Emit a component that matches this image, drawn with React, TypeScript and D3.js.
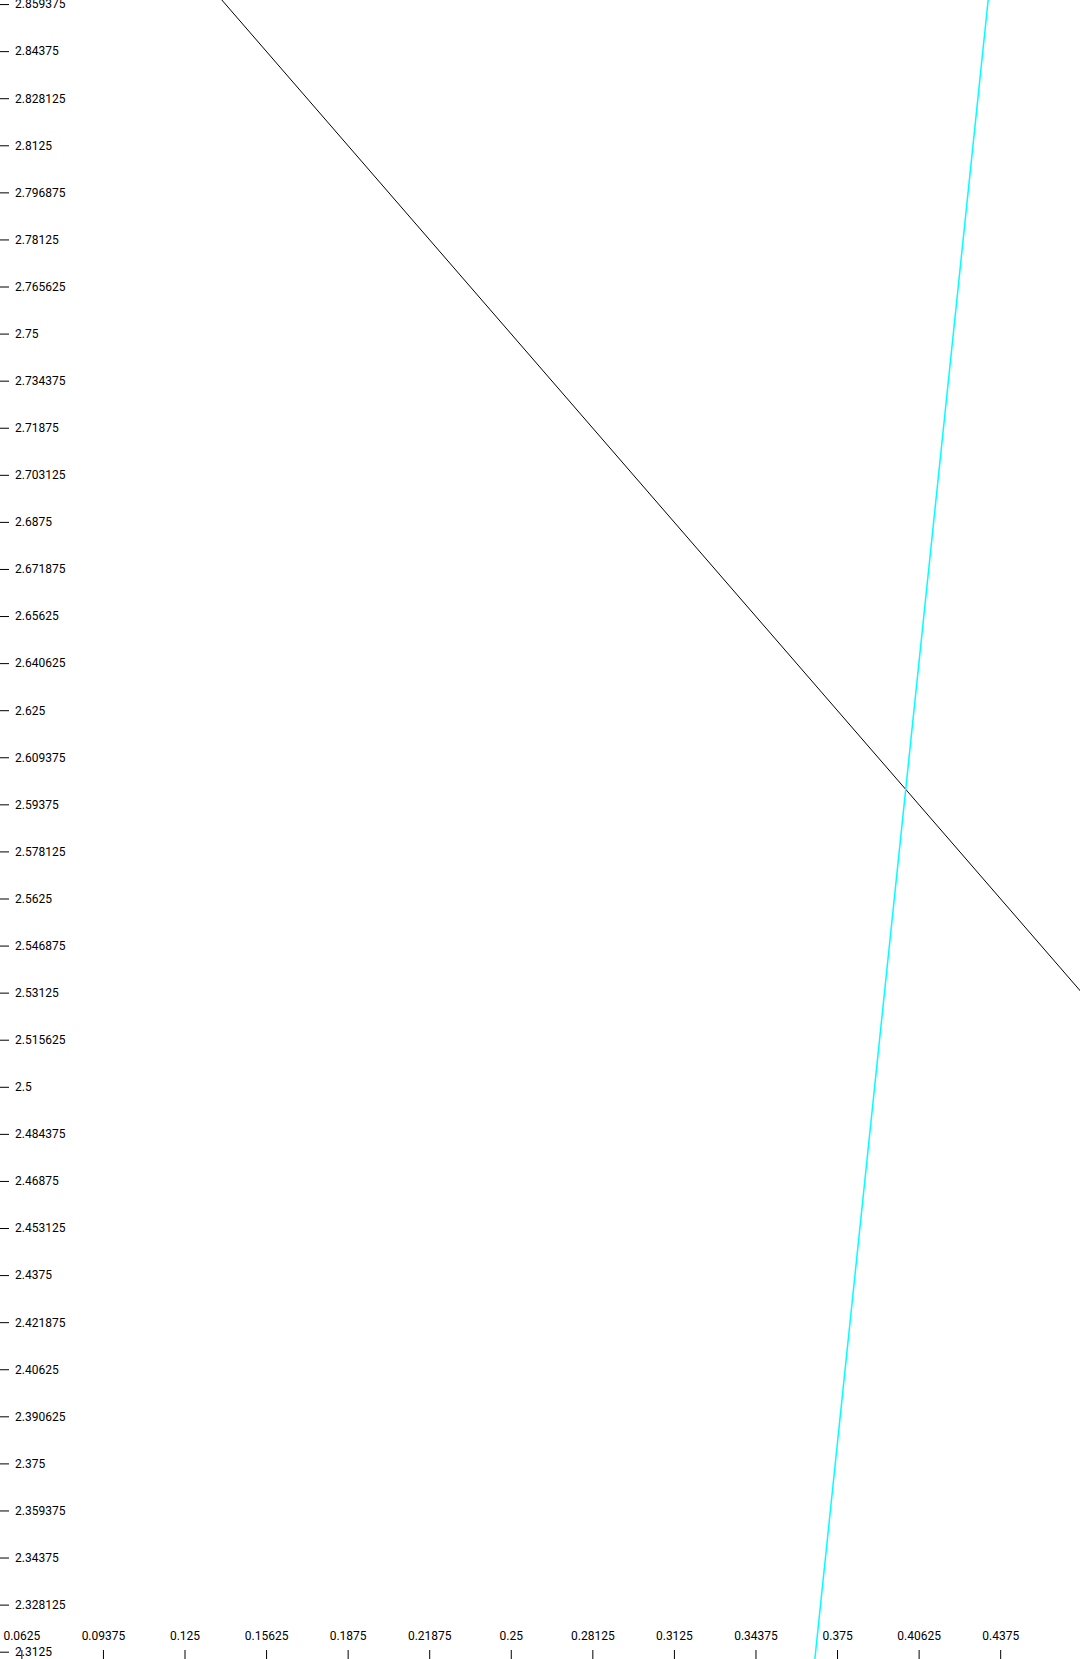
import React from "react";
import * as d3 from "d3";

const W = 1080;
const H = 1659;

// tick values (binary fractions)
const xTicks = [0.0625, 0.09375, 0.125, 0.15625, 0.1875, 0.21875, 0.25, 0.28125, 0.3125, 0.34375, 0.375, 0.40625, 0.4375];
const yTicks = [
  2.859375, 2.84375, 2.828125, 2.8125, 2.796875, 2.78125, 2.765625, 2.75,
  2.734375, 2.71875, 2.703125, 2.6875, 2.671875, 2.65625, 2.640625, 2.625,
  2.609375, 2.59375, 2.578125, 2.5625, 2.546875, 2.53125, 2.515625, 2.5,
  2.484375, 2.46875, 2.453125, 2.4375, 2.421875, 2.40625, 2.390625, 2.375,
  2.359375, 2.34375, 2.328125, 2.3125,
];

// visible domain
const xDomain = [0.05412, 0.46789];
const yDomain = [2.86089, 2.31024];

// black line: y = 3 - x
const blackX = [0.12, 0.48];
const blackY = [2.88, 2.52];
// cyan line
const cyanX = [0.36631, 0.43271];
const cyanY = [2.31024, 2.86089];

export default function App() {
  const x = d3.scaleLinear().domain(xDomain).range([0, W]);
  const y = d3.scaleLinear().domain(yDomain).range([0, H]);
  const line = d3
    .line<[number, number]>()
    .x((d) => x(d[0]))
    .y((d) => y(d[1]));
  const blackPts = blackX.map((v, i) => [v, blackY[i]] as [number, number]);
  const cyanPts = cyanX.map((v, i) => [v, cyanY[i]] as [number, number]);
  const axisY = 1650;
  return (
    <svg
      width={W}
      height={H}
      style={{ position: "absolute", left: 0, top: 0, overflow: "hidden", background: "#fff" }}
      fontFamily="Roboto, sans-serif"
      fontSize={12}
    >
      <path d={line(blackPts) || ""} fill="none" stroke="#000" strokeWidth={1} />
      <path d={line(cyanPts) || ""} fill="none" stroke="#00ffff" strokeWidth={1.5} />
      <g>
        {yTicks.map((t) => (
          <g key={"y" + t} transform={`translate(0,${y(t)})`}>
            <line x1={0} x2={9} stroke="#000" />
            <text x={15} dy="0.32em" fill="#000">
              {String(t)}
            </text>
          </g>
        ))}
      </g>
      <g>
        {xTicks.map((t) => (
          <g key={"x" + t} transform={`translate(${x(t)},0)`}>
            <line y1={axisY} y2={axisY + 9} stroke="#000" />
            <text y={axisY - 10} textAnchor="middle" fill="#000">
              {String(t)}
            </text>
          </g>
        ))}
      </g>
    </svg>
  );
}
